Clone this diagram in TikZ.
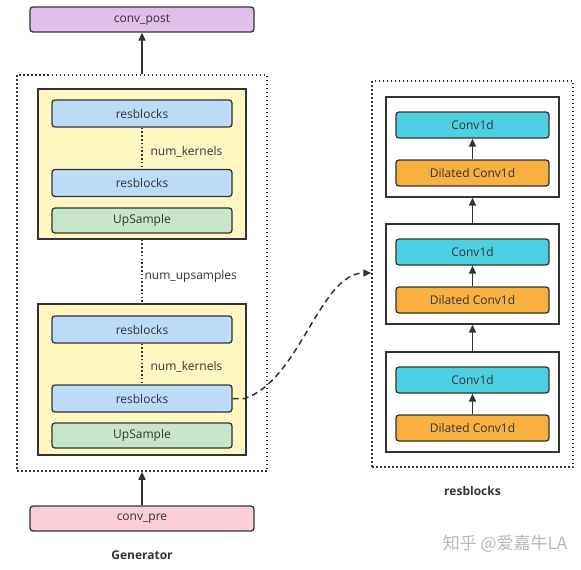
\documentclass[tikz,border=0pt]{standalone}
\usepackage{fontspec}
\setmainfont{Open Sans}
\setsansfont{Open Sans}
\newfontfamily\cjk{Noto Sans CJK SC}
\usepackage{xcolor}
\usetikzlibrary{arrows.meta, positioning, calc}

\definecolor{lineC}{HTML}{333333}
\definecolor{postC}{HTML}{E2BEEA}
\definecolor{preC}{HTML}{FBCDD6}
\definecolor{resC}{HTML}{BCDCF8}
\definecolor{upC}{HTML}{C8E6C9}
\definecolor{groupC}{HTML}{FFF6C2}
\definecolor{convC}{HTML}{4DD0E1}
\definecolor{dilC}{HTML}{F9B040}

\begin{document}
\begin{tikzpicture}[
  x=1pt, y=-1pt,
  layer/.style={rectangle, draw=lineC, line width=1.3pt, rounded corners=3pt, font=\fontsize{12}{14}\selectfont\sffamily, text=lineC, inner sep=0pt},
  group/.style={rectangle, draw=lineC, line width=1.3pt, fill=groupC, inner sep=0pt},
  cell/.style={rectangle, draw=lineC, line width=1.3pt, fill=white, inner sep=0pt},
  frame/.style={rectangle, draw=lineC, line width=1.5pt, dash pattern=on 1.5pt off 2.5pt, inner sep=0pt},
  repeat/.style={draw=lineC, line width=1.5pt, dash pattern=on 1.5pt off 2.3pt},
  flow/.style={draw=lineC, line width=1.5pt, -{Triangle[length=8pt, width=7pt]}},
  note/.style={font=\fontsize{12}{14}\selectfont\sffamily, text=lineC, anchor=west},
  title/.style={font=\fontsize{12}{14}\selectfont\sffamily\bfseries, text=lineC}
]
\useasboundingbox (0,0) rectangle (581,570);

% Generator
\node[layer, fill=postC, minimum width=224pt, minimum height=25pt] (post) at (142,19.5) {conv\_post};
\node[frame, minimum width=250pt, minimum height=396pt] (gen) at (142,273) {};

\node[group, minimum width=208pt, minimum height=150pt] (up1) at (142,164) {};
\node[layer, fill=resC, minimum width=180pt, minimum height=27pt] (res1a) at (142,113.5) {resblocks};
\node[layer, fill=resC, minimum width=180pt, minimum height=27pt] (res1b) at (142,183) {resblocks};
\node[layer, fill=upC, minimum width=180pt, minimum height=25pt] (ups1) at (142,220.5) {UpSample};

\node[group, minimum width=208pt, minimum height=151pt] (up2) at (142,379.5) {};
\node[layer, fill=resC, minimum width=180pt, minimum height=27pt] (res2a) at (142,329.5) {resblocks};
\node[layer, fill=resC, minimum width=180pt, minimum height=27pt] (res2b) at (142,398.5) {resblocks};
\node[layer, fill=upC, minimum width=180pt, minimum height=25pt] (ups2) at (142,435.5) {UpSample};

\node[layer, fill=preC, minimum width=224pt, minimum height=25pt] (pre) at (142,518.5) {conv\_pre};
\node[title] (gentitle) at (142,555) {Generator};

\draw[repeat] (res1a.south) -- (res1b.north);
\node[note] (k1) at (147,152) {num\_kernels};
\draw[repeat] (res2a.south) -- (res2b.north);
\node[note] (k2) at (147,367) {num\_kernels};
\draw[repeat] (up1.south) -- (up2.north);
\node[note] (ups) at (141,276) {num\_upsamples};

\draw[flow] (gen.north) -- (post.south);
\draw[flow] (pre.north) -- (gen.south);

% resblocks
\node[frame, minimum width=201pt, minimum height=386pt] (rb) at (472.5,274) {};
\foreach \i/\y in {a/147, b/274, c/402} {
  \node[cell, minimum width=173pt, minimum height=100pt] (box\i) at (472.5,\y) {};
  \node[layer, fill=convC, minimum width=153pt, minimum height=26pt] (conv\i) at (472.5,\y-22) {Conv1d};
  \node[layer, fill=dilC, minimum width=153pt, minimum height=26pt] (dil\i) at (472.5,\y+26) {Dilated Conv1d};
  \draw[flow] (dil\i.north) -- (conv\i.south);
}
\draw[flow] (boxb.north) -- (boxa.south);
\draw[flow] (boxc.north) -- (boxb.south);
\node[title] (rbtitle) at (472.5,491) {resblocks};

\draw[draw=lineC, line width=1.5pt, dash pattern=on 6pt off 4pt, -{Triangle[length=8pt, width=7pt]}]
  (res2b.east) -- ++(12,0) .. controls (300,380) and (320,273) .. (rb.west |- 0,273);

% watermark
\node[font=\cjk\fontsize{17}{19}\selectfont, text=black!28] (mark) at (505,544) {知乎 @爱嘉牛LA};

\end{tikzpicture}
\end{document}
